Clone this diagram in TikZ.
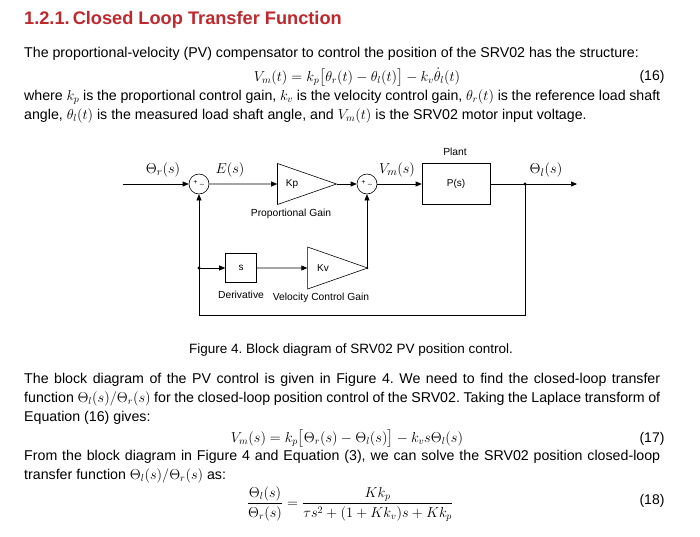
\documentclass[tikz,border=0pt]{standalone}
\usepackage{amsmath}
\usepackage{fontspec}
\setmainfont{Liberation Sans}
\usetikzlibrary{arrows.meta,shapes.geometric}
\definecolor{titlered}{HTML}{C0282D}
\frenchspacing
\tikzset{
  sig/.style={-{Triangle[length=6pt,width=5pt]},line width=0.6pt},
  sumnode/.style={circle,draw,line width=0.6pt,minimum size=20pt,inner sep=0pt},
  gain/.style={isosceles triangle,isosceles triangle stretches,draw,line width=0.6pt,minimum width=41pt,minimum height=59pt,inner sep=0pt,font=\fontsize{10}{11}\selectfont},
  blockbox/.style={draw,line width=0.6pt,font=\fontsize{10}{11}\selectfont},
  small/.style={font=\fontsize{10.3}{11}\selectfont},
  para/.style={anchor=north west,text width=636pt,align=justify,inner sep=0pt,font=\fontsize{14.2}{19}\selectfont},
  eqn/.style={font=\fontsize{14.5}{16}\selectfont},
  num/.style={font=\fontsize{14}{16}\selectfont,anchor=east},
  lab/.style={font=\fontsize{15}{16}\selectfont}
}
\begin{document}
\begin{tikzpicture}[x=1pt,y=-1pt]
\useasboundingbox (0,0) rectangle (700,536);
\node[anchor=west,inner sep=0pt,text=titlered,font=\fontsize{18.2}{20}\bfseries] (title) at (24,20) {1.2.1.\,Closed Loop Transfer Function};
\node[para] (p1) at (24,47) {The proportional-velocity (PV) compensator to control the position of the SRV02 has the structure:};
\node[eqn] (e16) at (357,77) {$V_m(t)=k_p\bigl[\theta_r(t)-\theta_l(t)\bigr]-k_v\dot{\theta}_l(t)$};
\node[num] (n16) at (668,77) {(16)};
\node[para] (p2) at (24,89) {where $k_p$ is the proportional control gain, $k_v$ is the velocity control gain, $\theta_r(t)$ is the reference load shaft\linebreak angle, $\theta_l(t)$ is the measured load shaft angle, and $V_m(t)$ is the SRV02 motor input voltage.};
% diagram
\coordinate (in) at (123,184);
\node[sumnode] (s1) at (199,184) {};
\node[gain] (kp) at (292,184) {Kp};
\node[sumnode] (s2) at (367,184) {};
\node[blockbox,minimum width=68pt,minimum height=41pt] (ps) at (456,184) {P(s)};
\coordinate (br) at (525,184);
\coordinate (out) at (577,184);
\node[blockbox,minimum width=31pt,minimum height=29pt] (sb) at (241,268) {s};
\node[gain,minimum width=42pt,minimum height=60pt] (kv) at (323,268) {Kv};
\coordinate (fbl) at (199,268);
\foreach \s in {s1,s2}{
  \node[font=\fontsize{7}{8}\selectfont] at ([xshift=-3.5pt,yshift=2pt]\s.center) {+};
  \node[font=\fontsize{7}{8}\selectfont] at ([xshift=3pt,yshift=0pt]\s.center) {\_};
}
\draw[sig] (in) -- (s1);
\draw[sig] (s1) -- (kp.west);
\draw[sig] (kp.apex) -- (s2);
\draw[sig] (s2) -- (ps);
\draw[sig] (ps) -- (out);
\fill (br) circle (1.6pt);
\fill (fbl) circle (1.6pt);
\draw[sig] (br) -- (525,315) -- (199,315) -- (s1.south);
\draw[sig] (fbl) -- (sb);
\draw[sig] (sb) -- (kv.west);
\draw[sig] (kv.apex) -| (s2.south);
\node[lab] (lr) at (163,170) {$\Theta_r(s)$};
\node[lab] (le) at (230,170) {$E(s)$};
\node[lab] (lv) at (397,170) {$V_m(s)$};
\node[lab] (ll) at (546,170) {$\Theta_l(s)$};
\node[small] (lplant) at (455,152) {Plant};
\node[small] (lpg) at (291,214) {Proportional Gain};
\node[small] (lder) at (241,295) {Derivative};
\node[small] (lvcg) at (321,298) {Velocity Control Gain};
\node[font=\fontsize{13.5}{15}\selectfont] (cap) at (351,350) {Figure 4. Block diagram of SRV02 PV position control.};
\node[para] (p3) at (24,373) {The block diagram of the PV control is given in Figure 4. We need to find the closed-loop transfer\linebreak function $\Theta_l(s)/\Theta_r(s)$ for the closed-loop position control of the SRV02. Taking the Laplace transform of\linebreak Equation (16) gives:};
\node[eqn] (e17) at (347,439) {$V_m(s)=k_p\bigl[\Theta_r(s)-\Theta_l(s)\bigr]-k_v s\Theta_l(s)$};
\node[num] (n17) at (668,439) {(17)};
\node[para] (p4) at (24,450) {From the block diagram in Figure 4 and Equation (3), we can solve the SRV02 position closed-loop\linebreak transfer function $\Theta_l(s)/\Theta_r(s)$ as:};
\node[eqn] (e18) at (350,504) {$\dfrac{\Theta_l(s)}{\Theta_r(s)}=\dfrac{Kk_p}{\tau s^2+(1+Kk_v)s+Kk_p}$};
\node[num] (n18) at (668,501) {(18)};
\end{tikzpicture}
\end{document}
